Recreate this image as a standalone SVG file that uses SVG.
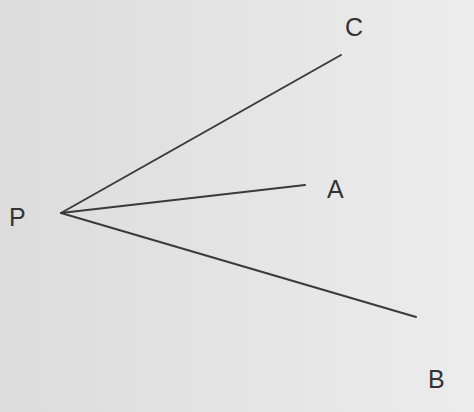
<svg xmlns="http://www.w3.org/2000/svg" width="474" height="412" viewBox="0 0 474 412">
<defs>
<linearGradient id="bg" x1="0" y1="0" x2="1" y2="0">
<stop offset="0" stop-color="#dcdcdc"/>
<stop offset="0.5" stop-color="#e4e4e4"/>
<stop offset="1" stop-color="#ececec"/>
</linearGradient>
</defs>
<style>
.ray{stroke:#3a3a3a;stroke-width:2;fill:none;stroke-linecap:round}
.lbl{font-family:"Liberation Sans",Arial,sans-serif;font-size:25px;fill:#333}
</style>
<rect width="474" height="412" fill="url(#bg)"/>
<g id="connectors">
<line class="ray" x1="61" y1="213" x2="341" y2="55"/>
<line class="ray" x1="61" y1="213" x2="305" y2="185"/>
<line class="ray" x1="61" y1="213" x2="416" y2="317"/>
</g>
<g id="node-P"><text class="lbl" x="9" y="226">P</text></g>
<g id="node-C"><text class="lbl" x="345" y="36">C</text></g>
<g id="node-A"><text class="lbl" x="327" y="198">A</text></g>
<g id="node-B"><text class="lbl" x="428" y="388">B</text></g>
</svg>
